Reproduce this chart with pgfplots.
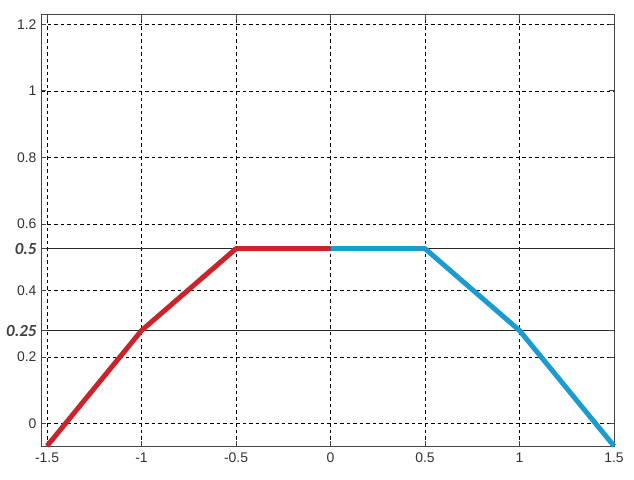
\documentclass[border=0pt]{standalone}
\usepackage{pgfplots}
\pgfplotsset{compat=1.18}
\usepackage{fontspec}
\setmainfont{Liberation Sans}
\newfontfamily\calfont{Carlito}
\definecolor{myred}{HTML}{CC2229}
\definecolor{myblue}{HTML}{1C9BD0}
\definecolor{axgray}{HTML}{444444}
\begin{document}
\begin{tikzpicture}
\useasboundingbox (-41bp,-34bp) rectangle (593bp,446bp);
\begin{axis}[
  at={(0,0)}, anchor=south west,
  scale only axis, width=573bp, height=431bp,
  xmin=-1.532, xmax=1.5, ymin=-0.067, ymax=1.228,
  xtick={-1.5,-1,-0.5,0,0.5,1,1.5},
  xticklabels={-1.5,-1,-0.5,0,0.5,1,1.5},
  ytick={0,0.2,0.4,0.6,0.8,1,1.2},
  yticklabels={0,0.2,0.4,0.6,0.8,1,1.2},
  tick label style={font=\fontsize{14}{16}\selectfont, text=black!80},
  xticklabel style={yshift=-3bp},
  yticklabel style={xshift=-1bp},
  tick align=inside, major tick length=5bp,
  tick style={axgray, line width=0.8bp},
  axis line style={axgray, line width=1bp},
  grid=major,
  major grid style={black, dash pattern=on 3.5bp off 3bp, line width=0.7bp},
  extra y ticks={0.526,0.280},
  extra y tick labels={0.5,0.25},
  extra y tick style={
    grid=major,
    major grid style={solid, black!85, line width=0.7bp},
    tick label style={font=\calfont\bfseries\itshape\fontsize{17}{19}\selectfont, text=black!75},
  },
  clip=false,
]
\addplot[myred, line width=5bp, line join=round] coordinates {
  (-1.5,-0.067) (-1,0.280) (-0.5,0.526) (0,0.526)
};
\addplot[myblue, line width=5bp, line join=round] coordinates {
  (0,0.526) (0.5,0.526) (1,0.280) (1.5,-0.067)
};
\end{axis}
\end{tikzpicture}
\end{document}
